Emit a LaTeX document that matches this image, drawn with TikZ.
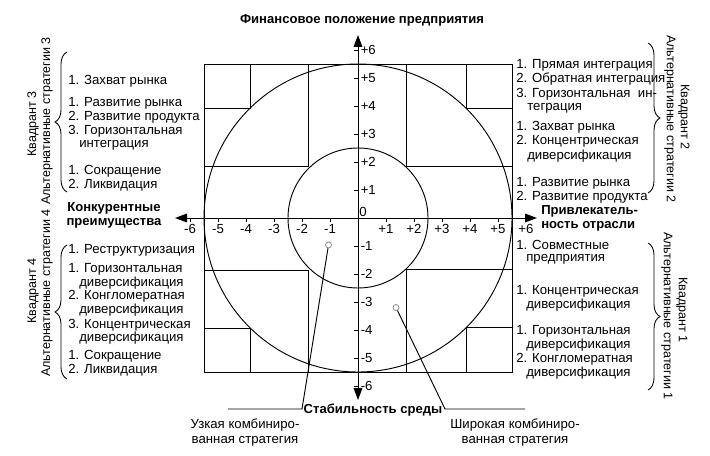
\documentclass[tikz,border=0pt]{standalone}
\usepackage{fontspec}
\setmainfont{Liberation Sans}
\usetikzlibrary{arrows.meta,decorations.pathreplacing}
\begin{document}
\begin{tikzpicture}[x=0.75pt,y=-0.75pt,
  fs/.style={font=\fontsize{9.9}{11}\selectfont},
  txt/.style={fs, inner sep=0pt, anchor=west},
  boldtxt/.style={font=\bfseries\fontsize{9.8}{10.5}\selectfont, inner sep=0pt},
  ln/.style={line width=0.7pt},
  axisline/.style={line width=0.75pt, {Triangle[length=9pt,width=6.5pt]}-{Triangle[length=9pt,width=6.5pt]}},
  brc/.style={decorate, decoration={brace, amplitude=9pt}, line width=0.65pt},
  dotmark/.style={circle, draw=gray, fill=white, inner sep=0pt, minimum size=4.5pt, line width=0.5pt},
  rottxt/.style={font=\fontsize{9.4}{10.5}\selectfont, inner sep=0pt}
]
\useasboundingbox (0,0) rectangle (710,456);
\fill[white] (0,0) rectangle (710,456);
\coordinate (O) at (358,218);
% square, circles
\draw[ln] (204,64) rectangle (512,372);
\draw[ln] (O) circle[radius=154];
\draw[ln] (O) circle[radius=70];
% inner lines
\draw[ln] (308.5,64) -- (308.5,166) -- (204,166);
\draw[ln] (250,64) -- (250,108) -- (204,108);
\draw[ln] (406,64) -- (406,166) -- (512,166);
\draw[ln] (466,64) -- (466,108) -- (512,108);
\draw[ln] (204,270) -- (308.5,270) -- (308.5,372);
\draw[ln] (204,328) -- (250,328) -- (250,372);
\draw[ln] (406,372) -- (406,269) -- (512,269);
\draw[ln] (466,372) -- (466,327) -- (512,327);
% ticks and labels
\foreach \k in {1,...,6}{
  \draw[ln] ({358+28*\k},218) -- ++(0,4);
  \draw[ln] ({358-28*\k},218) -- ++(0,4);
  \draw[ln] (358,{218-28*\k}) -- ++(-4,0);
  \draw[ln] (358,{218+28*\k}) -- ++(-4,0);
  \node[fs, inner sep=0pt] (hxp\k) at ({358+28*\k},229) {+\k};
  \node[fs, inner sep=0pt] (hxm\k) at ({358-28*\k},229) {-\k};
  \node[txt] (vyp\k) at (360.5,{218-28*\k}) {+\k};
  \node[txt] (vym\k) at (360.5,{218+28*\k}) {-\k};
}
\node[txt] (zero) at (359,211.5) {0};
% axes
\coordinate (xl) at (175,218);
\coordinate (xr) at (537,218);
\coordinate (yt) at (358,35);
\coordinate (yb) at (358,400);
\draw[axisline] (xl) -- (xr);
\draw[axisline] (yb) -- (yt);
% axis titles
\node[boldtxt] (tfin) at (362,20.5) {Финансовое положение предприятия};
\node[boldtxt, align=center] (tkon) at (114,215) {Конкурентные\\преимущества};
\node[boldtxt, align=left, anchor=west] (tpri) at (541,218) {Привлекатель-\\ность отрасли};
\node[boldtxt] (tsta) at (373,410.5) {Стабильность среды};
% quadrant 3 texts
\foreach \xpos/\ypos/\lbl [count=\i] in {
  68/81/{1. Захват рынка},
  68/103.3/{1. Развитие рынка},
  68/117.3/{2. Развитие продукта},
  68/131/{3. Горизонтальная},
  79/145/{интеграция},
  68/171.7/{1. Сокращение},
  68/185/{2. Ликвидация}}{
  \node[txt] (qc\i) at (\xpos,\ypos) {\lbl};
}
% quadrant 4 texts
\foreach \xpos/\ypos/\lbl [count=\i] in {
  68/250.7/{1. Реструктуризация},
  68/269/{1. Горизонтальная},
  79/282.7/{диверсификация},
  68/296.7/{2. Конгломератная},
  79/310/{диверсификация},
  68/325/{3. Концентрическая},
  79/338.3/{диверсификация},
  68/356.7/{1. Сокращение},
  68/370.7/{2. Ликвидация}}{
  \node[txt] (qd\i) at (\xpos,\ypos) {\lbl};
}
% quadrant 2 texts
\foreach \xpos/\ypos/\lbl [count=\i] in {
  516/65.3/{1. Прямая интеграция},
  516/79.3/{2. Обратная интеграция},
  516/94/{3. Горизонтальная\ \ ин-},
  527/108.3/{теграция},
  516/127.7/{1. Захват рынка},
  516/141.7/{2. Концентрическая},
  527/155.7/{диверсификация},
  516/183.3/{1. Развитие рынка},
  516/197.3/{2. Развитие продукта}}{
  \node[txt] (qb\i) at (\xpos,\ypos) {\lbl};
}
% quadrant 1 texts
\foreach \xpos/\ypos/\lbl [count=\i] in {
  516/245/{1. Совместные},
  526/259/{предприятия},
  516/291/{1. Концентрическая},
  526/305/{диверсификация},
  516/331/{1. Горизонтальная},
  526/345/{диверсификация},
  516/359/{2. Конгломератная},
  526/373.3/{диверсификация}}{
  \node[txt] (qa\i) at (\xpos,\ypos) {\lbl};
}
% braces
\coordinate (b3a) at (67,192); \coordinate (b3b) at (67,52);
\coordinate (b4a) at (67,379); \coordinate (b4b) at (67,245);
\coordinate (b2a) at (648,43); \coordinate (b2b) at (648,193);
\coordinate (b1a) at (648,243); \coordinate (b1b) at (648,390);
\draw[brc] (b3a) -- (b3b);
\draw[brc] (b4a) -- (b4b);
\draw[brc] (b2a) -- (b2b);
\draw[brc] (b1a) -- (b1b);
% rotated labels
\node[rottxt, rotate=90] (k3) at (33,124) {Квадрант 3};
\node[rottxt, rotate=90] (a3) at (47,121) {Альтернативные стратегии 3};
\node[rottxt, rotate=90] (k4) at (33,291) {Квадрант 4};
\node[rottxt, rotate=90] (a4) at (47,293) {Альтернативные стратегии 4};
\node[rottxt, rotate=-90] (a2) at (670,119) {Альтернативные стратегии 2};
\node[rottxt, rotate=-90] (k2) at (684,117) {Квадрант 2};
\node[rottxt, rotate=-90] (a1) at (667,316) {Альтернативные стратегии 1};
\node[rottxt, rotate=-90] (k1) at (682,310) {Квадрант 1};
% leaders
\node[dotmark] (d1) at (328.5,245) {};
\coordinate (c1) at (302,409);
\coordinate (e1) at (228,409);
\draw[ln] (d1) -- (c1) -- (e1);
\node[dotmark] (d2) at (396,307.5) {};
\coordinate (c2) at (445,409);
\coordinate (e2) at (525,409);
\draw[ln] (d2) -- (c2) -- (e2);
\node[fs, align=center, inner sep=0pt] (lnar) at (245,432.5) {Узкая комбиниро-\\ванная стратегия};
\node[fs, align=center, inner sep=0pt] (lwid) at (515,432.5) {Широкая комбиниро-\\ванная стратегия};
\end{tikzpicture}
\end{document}
